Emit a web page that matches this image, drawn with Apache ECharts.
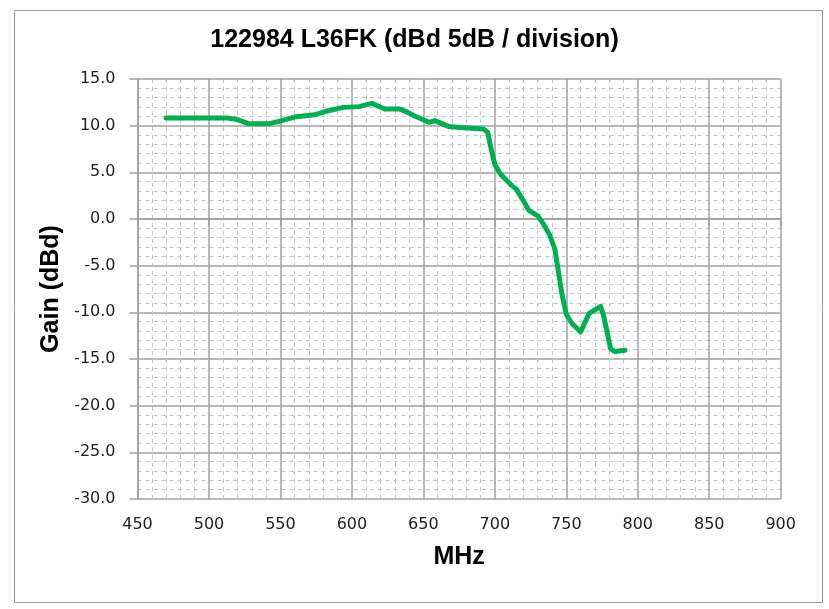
<!DOCTYPE html>
<html>
<head>
<meta charset="utf-8">
<script src="https://cdn.jsdelivr.net/npm/echarts@6/dist/echarts.min.js"></script>
<style>
html,body{margin:0;padding:0;background:#fff;}
#c{width:829px;height:609px;}
</style>
</head>
<body>
<div id="c"></div>
<script>
const titleText = '122984 L36FK (dBd 5dB / division)';
const xName = 'MHz';
const yName = 'Gain (dBd)';
const freq = [470, 513, 520, 528, 542, 549, 561, 574, 582, 594, 605, 614, 623, 633, 638, 645, 654, 658, 668, 680, 692, 695, 697, 700, 704, 712, 715, 720, 724, 730, 734, 738, 742, 747, 750, 754, 760, 766, 774, 776, 781, 784, 791];
const gain = [10.83, 10.83, 10.65, 10.2, 10.2, 10.46, 10.96, 11.18, 11.54, 11.96, 12.04, 12.39, 11.79, 11.79, 11.5, 10.96, 10.36, 10.54, 9.9, 9.75, 9.64, 9.3, 7.8, 5.85, 4.8, 3.55, 3.2, 1.95, 0.89, 0.35, -0.53, -1.6, -3.2, -8.1, -10.2, -11.2, -12.1, -10.1, -9.35, -10.3, -13.9, -14.2, -14.06];
const xRange = [450, 900, 50];
const yRange = [-30, 15, 5];

const chart = echarts.init(document.getElementById('c'), null, {renderer: 'canvas'});
const majorColor = '#a0a0a0';
const minorStyle = {color: '#c4c4c4', width: 1, type: [4, 4]};
const labelFont = {fontFamily: 'DejaVu Sans', fontSize: 16, color: '#1e1e1e'};
const nameFont = {fontFamily: 'Liberation Sans', fontSize: 25, fontWeight: 'bold', color: '#000'};

chart.setOption({
  animation: false,
  backgroundColor: '#fff',
  title: {
    text: titleText, left: 'center', top: 23,
    textStyle: {fontFamily: 'Liberation Sans', fontSize: 25, fontWeight: 'bold', color: '#000'}
  },
  graphic: [{
    type: 'rect', left: 12, top: 8, shape: {width: 808, height: 592},
    style: {fill: 'none', stroke: '#9a9a9a', lineWidth: 1}, z: -1
  }],
  grid: {left: 137.5, right: 48.3, top: 79, bottom: 110, containLabel: false},
  xAxis: {
    type: 'value', min: xRange[0], max: xRange[1], interval: xRange[2],
    name: xName, nameLocation: 'middle', nameGap: 46, nameTextStyle: nameFont,
    axisLine: {show: true, lineStyle: {color: majorColor, width: 1.5}},
    axisTick: {show: true, length: 7, lineStyle: {color: majorColor, width: 1.5}},
    axisLabel: Object.assign({margin: 18}, labelFont),
    splitLine: {show: true, lineStyle: {color: majorColor, width: 1.5}},
    minorTick: {show: false, splitNumber: 5},
    minorSplitLine: {show: true, lineStyle: minorStyle}
  },
  yAxis: {
    type: 'value', min: yRange[0], max: yRange[1], interval: yRange[2],
    name: yName, nameLocation: 'middle', nameGap: 69, nameTextStyle: nameFont,
    axisLine: {show: true, lineStyle: {color: majorColor, width: 1.5}},
    axisTick: {show: true, length: 8, lineStyle: {color: majorColor, width: 1.5}},
    axisLabel: Object.assign({margin: 22, formatter: v => v.toFixed(1)}, labelFont),
    splitLine: {show: true, lineStyle: {color: majorColor, width: 1.5}},
    minorTick: {show: false, splitNumber: 5},
    minorSplitLine: {show: true, lineStyle: minorStyle}
  },
  series: [{
    type: 'line',
    data: freq.map((f, i) => [f, gain[i]]),
    showSymbol: false, symbol: 'none', smooth: false,
    lineStyle: {color: '#00b050', width: 5, join: 'round', cap: 'round'}
  }]
});
</script>
</body>
</html>
